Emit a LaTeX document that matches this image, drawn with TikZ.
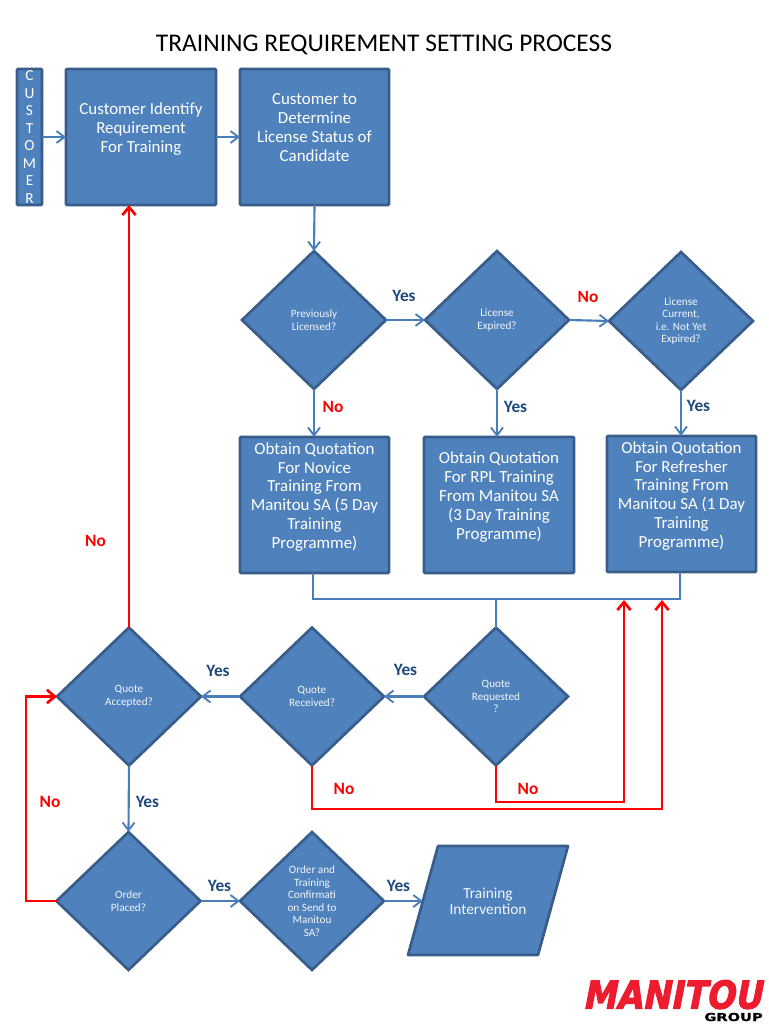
\documentclass[tikz,border=0pt]{standalone}
\usepackage{fontspec}
\usepackage{graphicx}
\setmainfont{Carlito}
\newfontfamily\logofont[FakeSlant=0.22,FakeBold=3]{DejaVu Sans Bold}
\newfontfamily\groupfont[FakeBold=1]{DejaVu Sans Bold}
\usetikzlibrary{shapes.geometric,arrows.meta,calc}
\definecolor{boxfill}{HTML}{4F81BD}
\definecolor{boxline}{HTML}{385D8A}
\definecolor{linkblue}{HTML}{4A7EBB}
\definecolor{labelblue}{HTML}{1F497D}
\definecolor{softwhite}{HTML}{F2F6FB}
\tikzset{
  x=0.75pt,y=-0.75pt,
  boxbase/.style={draw=boxline,fill=boxfill,line width=2pt,text=white,inner sep=0pt,outer sep=0pt,align=center},
  procbox/.style={boxbase,rectangle,rounded corners=0.8pt,font=\fontsize{12.7}{14.2}\selectfont},
  decision/.style={boxbase,diamond,aspect=1.04,text=softwhite,minimum width=108pt,minimum height=103.5pt,font=\fontsize{8.4}{9.4}\selectfont},
  link/.style={draw=linkblue,line width=1.6pt,-{Straight Barb[length=6pt,width=9pt,line width=1.4pt]}},
  plainlink/.style={draw=linkblue,line width=1.6pt},
  redlink/.style={draw=red,line width=2.2pt,-{Straight Barb[length=6pt,width=10pt,line width=2pt]}},
  yeslabel/.style={text=labelblue,font=\fontsize{13}{15}\bfseries\selectfont,inner sep=0pt},
  nolabel/.style={text=red,font=\fontsize{13}{15}\bfseries\selectfont,inner sep=0pt},
}
\begin{document}
\begin{tikzpicture}
\useasboundingbox (0,0) rectangle (768,1024);
\node[font=\fontsize{19.1}{22}\selectfont,inner sep=0pt] (title) at (384,45) {TRAINING REQUIREMENT SETTING PROCESS};
% boxes
\node[procbox,minimum width=18.75pt,minimum height=102pt,font=\fontsize{11.5}{13.1}\selectfont] (cust) at (29.5,137) {C\\U\\S\\T\\O\\M\\E\\R};
\node[procbox,minimum width=112.5pt,minimum height=102pt] (b1) at (141,137) {Customer Identify\\Requirement\\For Training\\ };
\node[procbox,minimum width=111.75pt,minimum height=102pt] (b2) at (314.5,137) {Customer to\\Determine\\License Status of\\Candidate\\ };
\node[procbox,minimum width=111.75pt,minimum height=102pt] (b3) at (314.5,505) {Obtain Quotation\\For Novice\\Training From\\Manitou SA (5 Day\\Training\\Programme)\\ };
\node[procbox,minimum width=112.5pt,minimum height=102pt] (b4) at (499,505) {Obtain Quotation\\For RPL Training\\From Manitou SA\\(3 Day Training\\Programme)\\ };
\node[procbox,minimum width=111.75pt,minimum height=102pt] (b5) at (681.5,504) {Obtain Quotation\\For Refresher\\Training From\\Manitou SA (1 Day\\Training\\Programme)\\ };
% decisions
\node[decision] (d1) at (314,320) {Previously\\Licensed?};
\node[decision] (d2) at (497,320) {License\\Expired?};
\node[decision] (d3) at (681,321) {License\\Current,\\i.e. Not Yet\\Expired?};
\node[decision] (q3) at (496,696.5) {Quote\\Requested\\?};
\node[decision] (q2) at (312,696.5) {Quote\\Received?};
\node[decision] (q1) at (129,696.5) {Quote\\Accepted?};
\node[decision] (o1) at (128.5,901) {Order\\Placed?};
\node[decision] (o2) at (312,901) {Order and\\Training\\Confirmati\\on Send to\\Manitou\\SA?};
% parallelogram
\draw[draw=boxline,fill=boxfill,line width=2pt,line join=round] (438,846) -- (568,846) -- (538,955) -- (408,955) -- cycle;
\node[inner sep=0pt,align=center,minimum width=97.5pt,minimum height=81pt,font=\fontsize{11.5}{12.2}\selectfont,text=softwhite] (tr) at (488,901.5) {Training\\Intervention};
% blue links
\draw[link] (cust.east |- 0,137) -- (b1.west |- 0,137);
\draw[link] (b1.east |- 0,137) -- (b2.west |- 0,137);
\draw[link] (b2.south) -- (d1.north);
\draw[link] (d1.east) -- (d2.west);
\draw[link] (d2.east) -- (d3.west);
\draw[link] (d1.south) -- (d1.south |- b3.north);
\draw[link] (d2.south) -- (d2.south |- b4.north);
\draw[link] (d3.south) -- (d3.south |- b5.north);
\coordinate (busl) at (312.5,598.5);
\coordinate (busr) at (680,598.5);
\coordinate (busm) at (496,598.5);
\draw[plainlink,line width=1.5pt] (busl |- b3.south) -- (busl) -- (busr) -- (busr |- b5.south);
\draw[plainlink] (busm) -- (q3.north);
\draw[link] (q3.west) -- (q2.east);
\draw[link] (q2.west) -- (q1.east);
\draw[link] (q1.south) -- (o1.north);
\draw[link] (o1.east) -- (o2.west);
\draw[link] (o2.east) -- (o2.east -| tr.west);
% red links
\coordinate (ra) at (624,600);
\coordinate (rb) at (662,600);
\draw[redlink] (q3.south) -- (q3.south |- 0,802) -- (ra |- 0,802) -- (ra);
\draw[redlink] (q2.south) -- (q2.south |- 0,809) -- (rb |- 0,809) -- (rb);
\draw[redlink] (q1.north) -- (q1.north |- b1.south);
\draw[redlink] (o1.west) -- (26,901) -- (26,696.5) -- (q1.west);
% labels
\node[yeslabel] (l1) at (404,296) {Yes};
\node[nolabel] (l2) at (588,296.5) {No};
\node[nolabel] (l3) at (333,406.5) {No};
\node[yeslabel] (l4) at (515.5,406.5) {Yes};
\node[yeslabel] (l5) at (698.5,405.5) {Yes};
\node[nolabel] (l6) at (95.5,541) {No};
\node[yeslabel] (l7) at (218,671) {Yes};
\node[yeslabel] (l8) at (405.5,670) {Yes};
\node[nolabel] (l9) at (344,788.5) {No};
\node[nolabel] (l10) at (528,788.5) {No};
\node[nolabel] (l11) at (50,801.5) {No};
\node[yeslabel] (l12) at (147.5,801.5) {Yes};
\node[yeslabel] (l13) at (219.5,885.5) {Yes};
\node[yeslabel] (l14) at (398.5,885.5) {Yes};
% logo
\node[inner sep=0pt,text={rgb,255:red,237;green,28;blue,46},font=\logofont\fontsize{24.5}{26}\selectfont,anchor=base east] (logo) at (762,1008.5) {\scalebox{1.03}[1.17]{MANITOU}};
\node[inner sep=0pt,font=\groupfont\fontsize{8.2}{9}\selectfont,text=black,anchor=base east] (group) at (763,1021) {\scalebox{1.34}[1]{GROUP}};
\end{tikzpicture}
\end{document}
